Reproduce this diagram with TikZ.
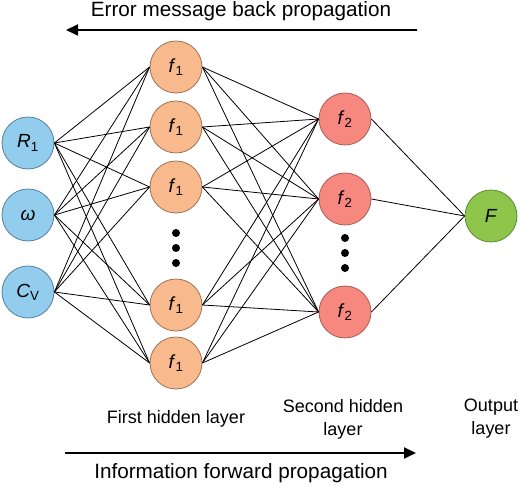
\documentclass[tikz,border=0pt]{standalone}
\usepackage{fontspec}
\setmainfont{Liberation Sans}
\usetikzlibrary{arrows.meta}

\definecolor{inblue}{HTML}{93CDEE}
\definecolor{inblueline}{HTML}{557F9C}
\definecolor{hidorange}{HTML}{F8B98C}
\definecolor{hidorangeline}{HTML}{9E7155}
\definecolor{hidred}{HTML}{F78880}
\definecolor{hidredline}{HTML}{A85A54}
\definecolor{outgreen}{HTML}{8DC64B}
\definecolor{outgreenline}{HTML}{5B8A33}

\begin{document}
\begin{tikzpicture}[x=1pt,y=1pt,
    neuron/.style={circle,line width=0.8pt,minimum size=52pt,inner sep=0pt,
                   font=\fontsize{19}{22}\selectfont},
    inneuron/.style={neuron,fill=inblue,draw=inblueline},
    firstneuron/.style={neuron,fill=hidorange,draw=hidorangeline},
    secondneuron/.style={neuron,fill=hidred,draw=hidredline},
    outneuron/.style={neuron,fill=outgreen,draw=outgreenline},
    link/.style={line width=0.8pt},
    bigdot/.style={circle,fill=black,minimum size=8pt,inner sep=0pt},
    flow/.style={line width=1.8pt,-{Triangle[length=12pt,width=11pt]}},
    caption/.style={font=\fontsize{18}{23}\selectfont,align=center},
    headline/.style={font=\fontsize{20.7}{24}\selectfont}]
    \useasboundingbox (0,0) rectangle (520,487);

    % Input layer
    \node[inneuron] (in1) at (28,344) {\textit{R}\textsubscript{1}};
    \node[inneuron] (in2) at (28,272) {\textit{ω}};
    \node[inneuron] (in3) at (28,195) {\textit{C}\textsubscript{V}};

    % First hidden layer
    \node[firstneuron] (h1) at (176,420) {\textit{f}\textsubscript{1}};
    \node[firstneuron] (h2) at (176,360) {\textit{f}\textsubscript{1}};
    \node[firstneuron] (h3) at (176,300) {\textit{f}\textsubscript{1}};
    \node[firstneuron] (h4) at (176,182) {\textit{f}\textsubscript{1}};
    \node[firstneuron] (h5) at (176,124) {\textit{f}\textsubscript{1}};
    \node[bigdot] (hdot1) at (176,254) {};
    \node[bigdot] (hdot2) at (176,239) {};
    \node[bigdot] (hdot3) at (176,224) {};

    % Second hidden layer
    \node[secondneuron] (s1) at (345,368) {\textit{f}\textsubscript{2}};
    \node[secondneuron] (s2) at (345,288) {\textit{f}\textsubscript{2}};
    \node[secondneuron] (s3) at (345,175) {\textit{f}\textsubscript{2}};
    \node[bigdot] (sdot1) at (345,249) {};
    \node[bigdot] (sdot2) at (345,234) {};
    \node[bigdot] (sdot3) at (345,219) {};

    % Output layer
    \node[outneuron] (out) at (491,271) {\textit{F}};

    % Connections
    \foreach \i in {1,2,3}
        \foreach \j in {1,...,5}
            \draw[link] (in\i.east) -- (h\j.west);
    \foreach \j in {1,...,5}
        \foreach \k in {1,2,3}
            \draw[link] (h\j.east) -- (s\k.west);
    \foreach \k in {1,2,3}
        \draw[link] (s\k.east) -- (out.west);

    % Layer captions
    \node[caption] (firstcap) at (176,68) {First hidden layer};
    \node[caption] (secondcap) at (343,68) {Second hidden\\layer};
    \node[caption] (outcap) at (491,68) {Output\\layer};

    % Propagation arrows
    \coordinate (backstart) at (417,457);
    \coordinate (backend) at (66,457);
    \draw[flow] (backstart) -- (backend);
    \node[headline] (backtext) at (241,476) {Error message back propagation};

    \coordinate (forwardstart) at (65,34);
    \coordinate (forwardend) at (416,34);
    \draw[flow] (forwardstart) -- (forwardend);
    \node[headline] (forwardtext) at (241,14) {Information forward propagation};
\end{tikzpicture}
\end{document}
